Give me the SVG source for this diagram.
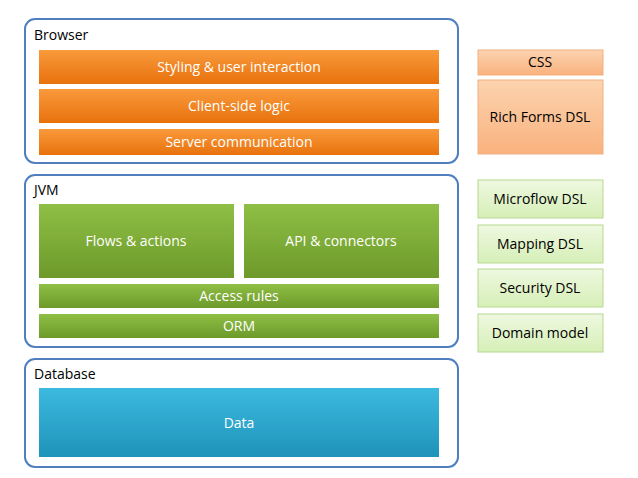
<svg xmlns="http://www.w3.org/2000/svg" width="638" height="478" viewBox="0 0 638 478">
<defs>
<linearGradient id="og" x1="0" y1="0" x2="0" y2="1"><stop offset="0" stop-color="#f99a3c"/><stop offset="1" stop-color="#e8720c"/></linearGradient>
<linearGradient id="gg" x1="0" y1="0" x2="0" y2="1"><stop offset="0" stop-color="#8fbf46"/><stop offset="1" stop-color="#6d9a2a"/></linearGradient>
<linearGradient id="bg" x1="0" y1="0" x2="0" y2="1"><stop offset="0" stop-color="#3cb9df"/><stop offset="1" stop-color="#1f93ba"/></linearGradient>
<linearGradient id="lo" x1="0" y1="0" x2="0" y2="1"><stop offset="0" stop-color="#fcd3b0"/><stop offset="1" stop-color="#f9b27e"/></linearGradient>
<linearGradient id="lg" x1="0" y1="0" x2="0" y2="1"><stop offset="0" stop-color="#eef8e0"/><stop offset="1" stop-color="#d6efb7"/></linearGradient>
</defs>
<style>
text{font-family:"Open Sans","Liberation Sans",sans-serif;font-size:14px}
.c{fill:none;stroke:#4f7fbf;stroke-width:2}
.w{fill:#fff;text-anchor:middle}
.k{fill:#000;text-anchor:middle}
.l{fill:#000}
.o{fill:url(#og)}.g{fill:url(#gg)}.b{fill:url(#bg)}
.lo{fill:url(#lo);stroke:#f0b080;stroke-width:1}
.lg{fill:url(#lg);stroke:#b8d890;stroke-width:1}
</style>
<rect width="638" height="478" fill="#fff"/>
<g id="browser"><rect class="c" x="25" y="19" width="433" height="144" rx="10"/><text class="l" x="34" y="40">Browser</text></g>
<g id="styling"><rect class="o" x="39" y="50" width="400" height="34"/><text class="w" x="239" y="72">Styling &amp; user interaction</text></g>
<g id="client"><rect class="o" x="39" y="89" width="400" height="34"/><text class="w" x="239" y="111">Client-side logic</text></g>
<g id="server"><rect class="o" x="39" y="129" width="400" height="26"/><text class="w" x="239" y="147">Server communication</text></g>
<g id="jvm"><rect class="c" x="25" y="175" width="433" height="172" rx="10"/><text class="l" x="34" y="195">JVM</text></g>
<g id="flows"><rect class="g" x="39" y="204" width="195" height="74"/><text class="w" x="136" y="246">Flows &amp; actions</text></g>
<g id="api"><rect class="g" x="244" y="204" width="195" height="74"/><text class="w" x="341" y="246">API &amp; connectors</text></g>
<g id="access"><rect class="g" x="39" y="284" width="400" height="24"/><text class="w" x="239" y="301">Access rules</text></g>
<g id="orm"><rect class="g" x="39" y="314" width="400" height="24"/><text class="w" x="239" y="331">ORM</text></g>
<g id="database"><rect class="c" x="25" y="359" width="433" height="108" rx="10"/><text class="l" x="34" y="379">Database</text></g>
<g id="data"><rect class="b" x="39" y="388" width="400" height="69"/><text class="w" x="239" y="428">Data</text></g>
<g id="css"><rect class="lo" x="478" y="50" width="125" height="25"/><text class="k" x="540" y="67">CSS</text></g>
<g id="richforms"><rect class="lo" x="478" y="80" width="125" height="74"/><text class="k" x="540" y="122">Rich Forms DSL</text></g>
<g id="microflow"><rect class="lg" x="478" y="180" width="125" height="38"/><text class="k" x="540" y="204">Microflow DSL</text></g>
<g id="mapping"><rect class="lg" x="478" y="225" width="125" height="38"/><text class="k" x="540" y="249">Mapping DSL</text></g>
<g id="security"><rect class="lg" x="478" y="269" width="125" height="38"/><text class="k" x="540" y="293">Security DSL</text></g>
<g id="domain"><rect class="lg" x="478" y="314" width="125" height="38"/><text class="k" x="540" y="338">Domain model</text></g>
<g id="connectors"/>
</svg>
